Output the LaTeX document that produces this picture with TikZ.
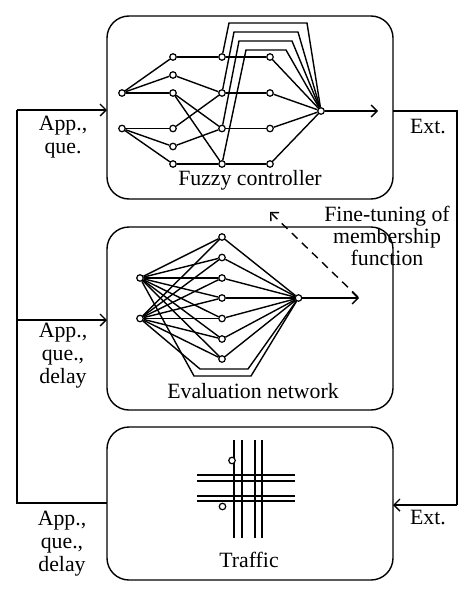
\documentclass[tikz,border=0pt]{standalone}
\usepackage{fontspec}
\setmainfont{Liberation Serif}
\usetikzlibrary{arrows.meta}
\tikzset{
  dot/.style={circle,draw,fill=white,line width=1.2pt,inner sep=0pt,minimum size=6.5pt},
  block/.style={draw,line width=1.4pt,rounded corners=22pt},
  wire/.style={line width=1.4pt,line join=miter},
  flow/.style={wire,-{Straight Barb[length=6pt,width=12pt,line width=1.4pt]}},
  lab/.style={font=\fontsize{21.8}{23}\selectfont,align=center,inner sep=0pt},
  tightlab/.style={font=\fontsize{21.8}{22}\selectfont,align=center,inner sep=0pt},
}
\begin{document}
\begin{tikzpicture}[x=1pt,y=-1pt]
\useasboundingbox (0,0) rectangle (474,597);
% blocks
\draw[block] (107,16) rectangle (393,199);
\draw[block] (107,227) rectangle (393,410);
\draw[block] (107,427) rectangle (393,580);
\coordinate (fl) at (107,110);
\coordinate (el) at (107,320);
\coordinate (tl) at (107,503);
\coordinate (fr) at (393,111);
\coordinate (tr) at (393,505);
\coordinate (c1) at (17,110);
\coordinate (c2) at (17,320);
\coordinate (c3) at (17,503);
\coordinate (c4) at (457,111);
\coordinate (c5) at (457,505);
% fuzzy nodes
\foreach \n/\x/\y in {a1/122/93,a2/122/128.5,
  b1/173/57,b2/173/75,b3/173/93,b4/173/128.5,b5/173/146.5,b6/173/164,
  g1/222/57,g2/222/93,g3/222/128.5,g4/222/164,
  d1/270/57,d2/270/93,d3/270/128.5,d4/270/164,o/321/111}
  \node[dot] (\n) at (\x,\y) {};
\coordinate (oe) at (378,111);
\foreach \p/\q in {a1/b1,a1/b2,a1/b3,a2/b4,a2/b5,a2/b6,b1/g1,b2/g2,b3/g3,b3/g4,b4/g2,b5/g3,b6/g4,
  g1/d1,g2/d2,g3/d3,g4/d4,d1/o,d2/o,d3/o,d4/o}
  \draw[wire] (\p) -- (\q);
\draw[wire] (g1) -- (229,23) -- (307,23) -- (o);
\draw[wire] (g2) -- (234,32) -- (298,32) -- (o);
\draw[wire] (g3) -- (239,41) -- (292,41) -- (o);
\draw[wire] (g4) -- (246,50) -- (286,50) -- (o);
\draw[flow] (o) -- (oe);
% evaluation nodes
\foreach \n/\x/\y in {i1/140/278,i2/140/318.5,
  m1/222/237,m2/222/257.5,m3/222/278,m4/222/298,m5/222/318.5,m6/222/339,m7/222/359,p/298.5/298}
  \node[dot] (\n) at (\x,\y) {};
\coordinate (pe) at (359,298);
\foreach \k in {1,...,7}{
  \draw[wire] (i1) -- (m\k);
  \draw[wire] (i2) -- (m\k);
  \draw[wire] (m\k) -- (p);
}
\draw[wire] (i1) -- (194,376) -- (251,376) -- (p);
\draw[wire] (i2) -- (200,369) -- (248,369) -- (p);
\draw[flow] (p) -- (pe);
\coordinate (ds) at (358,297);
\coordinate (de) at (270,212);
\draw[wire,dash pattern=on 8pt off 6pt,-{Straight Barb[length=6pt,width=12pt,line width=1.4pt]}] (ds) -- (de);
% traffic
\foreach \x in {234,242,255,262}
  \draw[wire] (\x,440) -- (\x,538);
\foreach \y in {475,481,496,501}
  \draw[wire] (197,\y) -- (295,\y);
\node[dot] (t1) at (232,460.5) {};
\node[dot] (t2) at (222.5,506.5) {};
% feedback
\draw[wire] (tl) -- (c3) -- (c1);
\draw[flow] (c1) -- (fl);
\draw[flow] (c2) -- (el);
\draw[wire] (fr) -- (c4) -- (c5);
\draw[flow] (c5) -- (tr);
% labels
\node[lab] (lf) at (250,180) {Fuzzy controller};
\node[lab] (le) at (253,391) {Evaluation network};
\node[lab] (lt) at (249,560) {Traffic};
\node[tightlab] (ft) at (387,236) {Fine-tuning of\\membership\\function};
\node[lab] (q1) at (63,137) {App.,\\que.};
\node[lab] (q2) at (63,356) {App.,\\que.,\\delay};
\node[lab] (q3) at (62,544) {App.,\\que.,\\delay};
\node[lab] (x1) at (428,127) {Ext.};
\node[lab] (x2) at (428,518) {Ext.};
\end{tikzpicture}
\end{document}
